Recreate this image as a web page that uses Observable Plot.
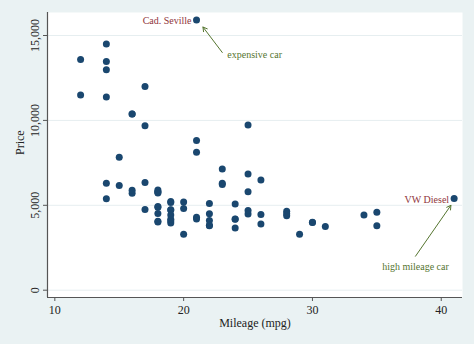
<!DOCTYPE html>
<html>
<head>
<meta charset="utf-8">
<script src="https://cdn.jsdelivr.net/npm/d3@7"></script>
<script src="https://cdn.jsdelivr.net/npm/@observablehq/plot@0.6"></script>
<style>
  html, body { margin: 0; padding: 0; background: #eaf2f3; }
  #chart svg { display: block; }
</style>
</head>
<body>
<div id="chart"></div>
<script>
// Stata auto dataset: make, mpg, price
const makes = ["AMC Concord","AMC Pacer","AMC Spirit","Buick Century","Buick Electra","Buick LeSabre","Buick Opel","Buick Regal","Buick Riviera","Buick Skylark","Cad. Deville","Cad. Eldorado","Cad. Seville","Chev. Chevette","Chev. Impala","Chev. Malibu","Chev. Monte Carlo","Chev. Monza","Chev. Nova","Dodge Colt","Dodge Diplomat","Dodge Magnum","Dodge St. Regis","Ford Fiesta","Ford Mustang","Linc. Continental","Linc. Mark V","Linc. Versailles","Merc. Bobcat","Merc. Cougar","Merc. Marquis","Merc. Monarch","Merc. XR-7","Merc. Zephyr","Olds 98","Olds Cutl Supr","Olds Cutlass","Olds Delta 88","Olds Omega","Olds Starfire","Olds Toronado","Plym. Arrow","Plym. Champ","Plym. Horizon","Plym. Sapporo","Plym. Volare","Pont. Catalina","Pont. Firebird","Pont. Grand Prix","Pont. Le Mans","Pont. Phoenix","Pont. Sunbird","Audi 5000","Audi Fox","BMW 320i","Datsun 200","Datsun 210","Datsun 510","Datsun 810","Fiat Strada","Honda Accord","Honda Civic","Mazda GLC","Peugeot 604","Renault Le Car","Subaru","Toyota Celica","Toyota Corolla","Toyota Corona","VW Dasher","VW Diesel","VW Rabbit","VW Scirocco","Volvo 260"];
const mpg = [22,17,22,20,15,18,26,20,16,19,14,14,21,29,16,22,22,24,19,30,18,16,17,28,21,12,12,14,22,14,15,18,14,20,21,19,19,18,19,24,16,28,34,25,26,18,18,18,19,19,19,24,17,23,25,23,35,24,21,21,25,28,30,14,26,35,18,31,18,23,41,25,25,17];
const price = [4099,4749,3799,4816,7827,5788,4453,5189,10372,4082,11385,14500,15906,3299,5705,4504,5104,3667,3955,3984,4010,5886,6342,4389,4187,11497,13594,13466,3829,5379,6165,4516,6303,3291,8814,5172,4733,4890,4181,4195,10371,4647,4425,4482,6486,4060,5798,4934,5222,4723,4424,4172,9690,6295,9735,6229,4589,5079,8129,4296,5799,4499,3995,12990,3895,3798,5899,3748,5719,7140,5397,4697,6850,11995];

const xTicks = [10, 20, 30, 40];
const yTicks = [0, 5000, 10000, 15000];
const xDomain = [9.43, 41.65];
const yDomain = [-430, 16355];

// labelled points
const labelMakes = ["Cad. Seville", "VW Diesel"];
// annotation arrows: tail (x1, y1) -> head (x2, y2), with text at the tail
const arrowX1 = [23.0, 38.0];
const arrowY1 = [14000, 2000];
const arrowX2 = [21.5, 40.75];
const arrowY2 = [15500, 5000];
const arrowText = ["expensive car", "high mileage car"];

const cars = makes.map((m, i) => ({make: m, mpg: mpg[i], price: price[i]}));
const labelled = cars.filter(d => labelMakes.includes(d.make));
const arrows = arrowText.map((t, i) => ({x1: arrowX1[i], y1: arrowY1[i], x2: arrowX2[i], y2: arrowY2[i], text: t}));

const font = "'Liberation Serif', 'Times New Roman', serif";

const chart = Plot.plot({
  width: 474,
  height: 344,
  marginLeft: 47,
  marginRight: 12,
  marginTop: 12,
  marginBottom: 47,
  style: {background: "#eaf2f3", fontFamily: font, fontSize: "12px", color: "#222"},
  x: {domain: xDomain, label: null},
  y: {domain: yDomain, label: null},
  marks: [
    Plot.frame({fill: "white", stroke: "none"}),
    Plot.gridY(yTicks, {stroke: "#e6eef0", strokeOpacity: 1}),
    Plot.ruleX([xDomain[0]], {stroke: "#555", strokeWidth: 1.2}),
    Plot.ruleY([yDomain[0]], {stroke: "#555", strokeWidth: 1.2}),
    Plot.axisY({ticks: yTicks, tickFormat: d3.format(","), tickRotate: -90, tickSize: 4, tickPadding: 5, stroke: "#555", fontSize: 12, label: null}),
    Plot.axisX({ticks: xTicks, tickSize: 4, tickPadding: 4, stroke: "#555", fontSize: 12, label: null}),
    Plot.text(["Price"], {frameAnchor: "left", dx: -27, rotate: -90, fontSize: 12, fill: "#222"}),
    Plot.text(["Mileage (mpg)"], {frameAnchor: "bottom", dy: 29, fontSize: 12, fill: "#222"}),
    Plot.dot(cars, {x: "mpg", y: "price", r: 3.5, fill: "#1a476f", stroke: "none"}),
    Plot.text(labelled, {x: "mpg", y: "price", text: "make", textAnchor: "end", dx: -5, dy: 1, fontSize: 10, fill: "#90353b"}),
    Plot.arrow(arrows, {x1: "x1", y1: "y1", x2: "x2", y2: "y2", stroke: "#55752f", strokeWidth: 1, headLength: 7}),
    Plot.text(arrows.slice(0, 1), {x: "x1", y: "y1", text: "text", textAnchor: "start", dx: 5, dy: 2, fontSize: 10, fill: "#55752f"}),
    Plot.text(arrows.slice(1), {x: "x1", y: "y1", text: "text", textAnchor: "middle", dy: 11, fontSize: 10, fill: "#55752f"})
  ]
});
document.getElementById("chart").appendChild(chart);
</script>
</body>
</html>
